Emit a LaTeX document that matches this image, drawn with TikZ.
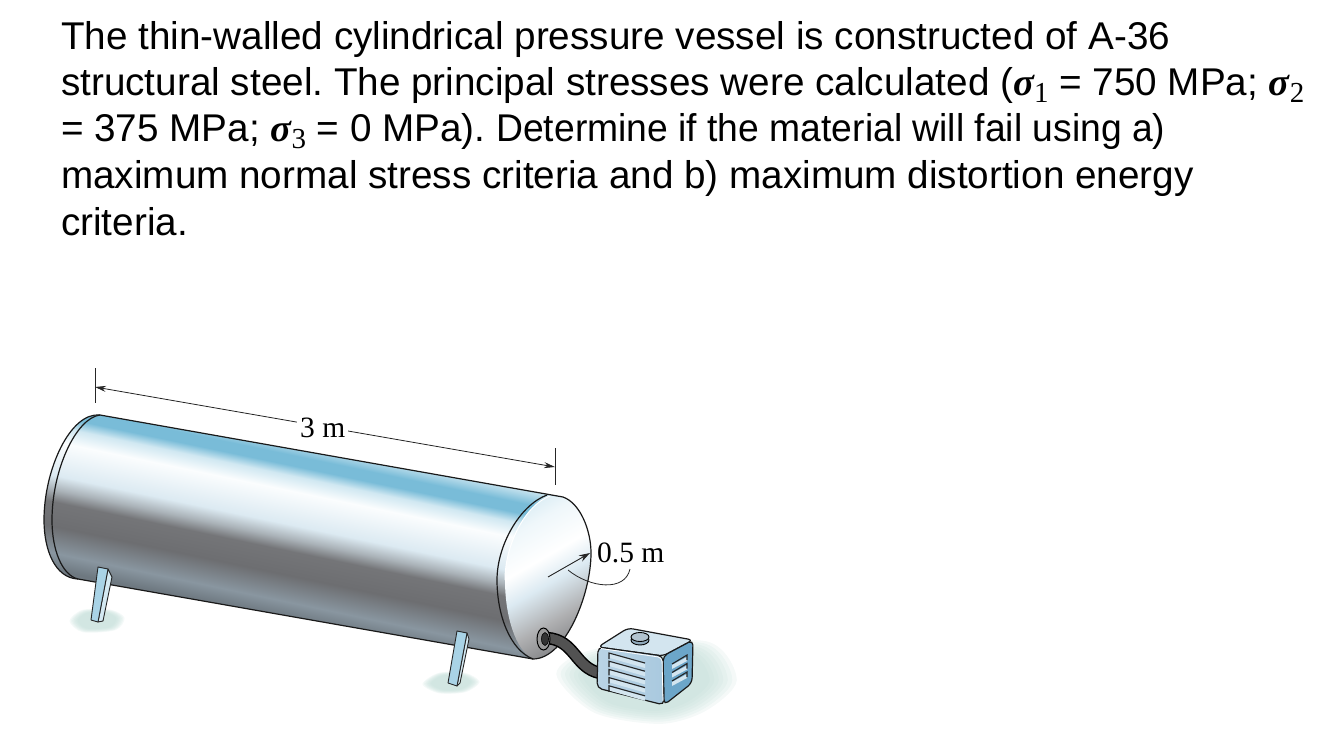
\documentclass[tikz,border=0pt]{standalone}
\usepackage{graphicx}
\usepackage{fontspec}
\setmainfont{Liberation Sans}
\newfontfamily\figfont{Liberation Serif}
\usetikzlibrary{arrows.meta,calc}
\definecolor{tankblue}{HTML}{79BCD8}
\definecolor{tankpale}{HTML}{DCEAF2}
\definecolor{tankdark}{HTML}{6D6E71}
\definecolor{tankslate}{HTML}{8996A0}
\definecolor{legblue}{HTML}{A9D3E6}
\definecolor{groundgreen}{HTML}{BFDCD6}
\definecolor{pumpfront}{HTML}{A9C9DF}
\definecolor{pumptop}{HTML}{D3E5EF}
\definecolor{pumpside}{HTML}{6CA6C9}
\definecolor{pumpcap}{HTML}{8FA9BB}
\pgfdeclareverticalshading{tankshade}{700bp}{color(0bp)=(tankslate!80!black); color(40bp)=(tankslate!80!black); color(56bp)=(tankslate); color(82bp)=(tankdark); color(106bp)=(tankdark!95!white); color(118bp)=(tankpale!55!tankdark); color(132bp)=(tankpale); color(165bp)=(white!97!tankblue); color(180bp)=(tankblue!35!white); color(190bp)=(tankblue); color(200bp)=(tankblue); color(214bp)=(tankblue!40!white); color(250bp)=(tankblue!25!white)}
\pgfdeclareverticalshading{diskshade}{200bp}{color(0bp)=(tankdark); color(45bp)=(tankdark!55!white); color(80bp)=(tankpale); color(105bp)=(white); color(140bp)=(white!88!tankblue); color(175bp)=(tankblue!38!white)}
\newcommand{\sig}[1]{{\figfont\bfseries\itshape σ}\raisebox{-.18em}{\figfont\fontsize{29}{29}\selectfont #1}}
\begin{document}
\frenchspacing
\begin{tikzpicture}[x=1pt, y=-1pt,
    textline/.style={anchor=base west, inner sep=0, font=\fontsize{38.67}{44}\selectfont},
    outline/.style={draw=black!90, line width=1.2pt},
    dimline/.style={draw=black!85, line width=.8pt},
    dimarrow/.style={dimline, {Stealth[length=11pt,width=6pt]}-{Stealth[length=11pt,width=6pt]}},
    figlabel/.style={font=\figfont\fontsize{29.5}{30}\selectfont, inner sep=1pt},
    ground/.style={fill=groundgreen, opacity=.16},
    legfront/.style={fill=legblue, draw=black!85, line width=.9pt, line join=round},
    legside/.style={fill=legblue!50!white, draw=black!85, line width=.9pt, line join=round},
    slot/.style={draw=black!85, line width=1.1pt}]

    \useasboundingbox (0,0) rectangle (1335,738);

    % Question text
    \node[textline] (line1) at (61,50) {The thin-walled cylindrical pressure vessel is constructed of A-36};
    \node[textline] (line2) at (61,96) {structural steel. The principal stresses were calculated (\sig{1} = 750 MPa; \sig{2}};
    \node[textline] (line3) at (61,142) {= 375 MPa; \sig{3} = 0 MPa). \scalebox{.964}[1]{Determine if the material will fail using a)}};
    \node[textline] (line4) at (61,189) {maximum normal stress criteria and b) maximum distortion energy};
    \node[textline] (line5) at (61,235) {criteria.};

    % Ground shadows
    \foreach \s in {1.02,.97,.92,.87,.82,.77,.72} {
        \path[ground, shift={(97,620)}, scale=\s] plot[smooth cycle] coordinates {(-27,1) (-14,-10) (14,-10) (27,-2) (18,10) (-14,12)};
        \path[ground, shift={(451,682)}, scale=\s] plot[smooth cycle] coordinates {(-28,2) (-12,-9) (14,-9) (28,0) (14,10) (-12,11)};
        \path[ground, shift={(645,680)}, scale=\s] plot[smooth cycle] coordinates {(-87,-6) (-50,-30) (60,-38) (90,0) (60,30) (15,43) (-50,32)};
    }

    % Tank body
    \begin{scope}
        \clip (100,415) -- (563,497) .. controls (580,503) and (591,530) .. (591,553)
            .. controls (591,595) and (565,659) .. (533,659) -- (78,579)
            .. controls (55,578) and (44,550) .. (44,520) .. controls (44,470) and (70,412) .. (100,415) -- cycle;
        \node[inner sep=0, rotate=-11.8] (body) at (316,537) {\pgfuseshading{tankshade}};
    \end{scope}
    % End disc
    \begin{scope}
        \clip (550,496) -- (563,497) .. controls (580,503) and (591,530) .. (591,553)
            .. controls (591,595) and (565,659) .. (533,659) .. controls (515,650) and (505,615) .. (505,580)
            .. controls (505,545) and (525,505) .. (550,496) -- cycle;
        \node[inner sep=0, rotate=30] (face) at (545,577) {\pgfuseshading{diskshade}};
    \end{scope}
    \draw[white, line width=1pt] (550,496) .. controls (525,505) and (505,545) .. (505,580);

    % Tank outlines
    \draw[outline] (78,579) .. controls (55,578) and (44,550) .. (44,520) .. controls (44,470) and (70,412) .. (100,415) -- (563,497)
        .. controls (580,503) and (591,530) .. (591,553) .. controls (591,595) and (565,659) .. (533,659) -- (78,579);
    \draw[outline] (78,579) .. controls (62,575) and (52,550) .. (52,520) .. controls (52,470) and (76,418) .. (100,415);
    \draw[outline] (547,495) .. controls (520,505) and (497,545) .. (497,580) .. controls (497,615) and (510,650) .. (533,659);

    % Legs
    \path[legside] (108,569) -- (112,577) -- (103,621) -- (98,622) -- cycle;
    \path[legfront] (98,567) -- (108,569) -- (98,622) -- (91,620) -- cycle;
    \path[legside] (467,633) -- (469,639) -- (460,683) -- (457,686) -- cycle;
    \path[legfront] (457,631) -- (467,633) -- (457,686) -- (448,683) -- cycle;

    % Hose and port
    \draw[black, line width=12.5pt] (547,638) .. controls (575,640) and (575,668) .. (600,673);
    \draw[black!68, line width=9.5pt] (547,638) .. controls (575,640) and (575,668) .. (600,673);
    \draw[fill=black!40, line width=1pt] (543.5,639) ellipse (6.5 and 11);
    \draw[fill=black!80, line width=.6pt] (545,639) ellipse (3.5 and 6.5);

    % Pump
    \coordinate (pumpA) at (598,647);
    \coordinate (pumpB) at (663,656);
    \coordinate (pumpC) at (693,640);
    \coordinate (pumpD) at (628,628);
    \coordinate (pumpE) at (597,688);
    \coordinate (pumpF) at (664,705);
    \coordinate (pumpG) at (692,683);
    \draw[fill=pumptop, outline, rounded corners=5pt] (pumpA) -- (pumpD) -- (pumpC) -- (pumpB) -- cycle;
    \draw[fill=pumpside, outline, rounded corners=5pt] (pumpB) -- (pumpC) -- (pumpG) -- (pumpF) -- cycle;
    \draw[left color=pumpfront!60!pumptop, right color=pumpfront, outline, rounded corners=5pt] (pumpA) -- (pumpB) -- (pumpF) -- (pumpE) -- cycle;
    \draw[white, line width=.8pt, rounded corners=4pt] ($(pumpA)+(3,1.5)$) -- ($(pumpB)+(-1,1.5)$) -- ($(pumpF)+(-1,-4)$);
    \draw[fill=pumpcap, line width=.9pt] (640,640) ellipse (9 and 5);
    \draw[fill=pumpcap!70!white, line width=.9pt] (640,637) ellipse (9 and 4.5);
    \foreach \i in {0,...,4} {
        \fill[pumptop] (610,{654+8.2*\i}) -- (645,{664+8.2*\i}) -- (645,{668+8.2*\i}) -- (610,{658+8.2*\i}) -- cycle;
        \draw[slot] (609,{659+8.2*\i}) -- (609,{653+8.2*\i}) -- (645,{663+8.2*\i});
    }
    \foreach \i in {0,1,2} {
        \fill[pumptop] (672,{665+8.5*\i}) -- (687,{657+8.5*\i}) -- (687,{661+8.5*\i}) -- (672,{669+8.5*\i}) -- cycle;
        \draw[slot] (672,{664+8.5*\i}) -- (687,{655+8.5*\i}) -- (687,{660+8.5*\i});
    }

    % Dimensions
    \coordinate (dimL) at (95,387);
    \coordinate (dimR) at (555,467);
    \draw[dimline] (95,368) -- (95,403);
    \draw[dimline] (555,448) -- (555,485);
    \draw[dimarrow] (dimL) -- node[pos=.495, figlabel, fill=white, inner xsep=3pt, inner ysep=0pt, yshift=-1pt] (length) {3 m} (dimR);

    \coordinate (radC) at (548,577);
    \coordinate (radE) at (590,553);
    \draw[dimline, line width=.9pt, -{Stealth[length=11pt,width=7pt]}] (radC) -- (radE);
    \node[figlabel, anchor=base west] (radius) at (596,562) {0.5 m};
    \draw[dimline] (568,570) .. controls (590,588) and (625,592) .. (630,569);
\end{tikzpicture}
\end{document}
